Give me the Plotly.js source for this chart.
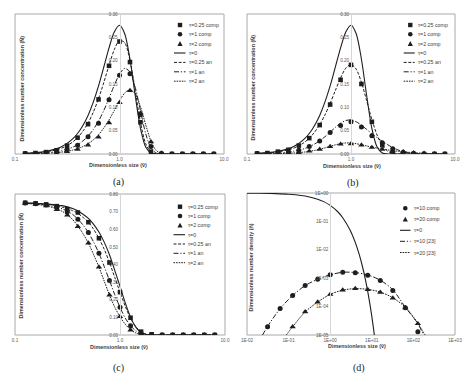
<!DOCTYPE html>
<html><head><meta charset="utf-8">
<script src="https://cdn.plot.ly/plotly-3.0.1.min.js"></script>
<style>html,body{margin:0;padding:0;background:#fff;}#chart{width:474px;height:373px;}</style>
</head><body><div id="chart"></div>
<script>
// ---------- DATA ----------
const sizeComp = [0.125, 0.157, 0.198, 0.25, 0.315, 0.397, 0.5, 0.63, 0.794, 1.0, 1.26, 1.587, 2.0, 2.52, 3.175, 4.0, 5.04, 6.35, 8.0];
const sizeLine = [0.125, 0.157, 0.198, 0.25, 0.281, 0.315, 0.354, 0.397, 0.445, 0.5, 0.561, 0.63, 0.707, 0.794, 0.891, 1.0, 1.122, 1.26, 1.414, 1.587, 1.782, 2.0, 2.245, 2.52, 2.828, 3.175, 4.0, 5.04, 6.35, 8.0];

// panel (a)
const aLineT0   = [0.0015, 0.0029, 0.0058, 0.0115, 0.0162, 0.0227, 0.0317, 0.0440, 0.0607, 0.0827, 0.1111, 0.1460, 0.1862, 0.2274, 0.2615, 0.2759, 0.2578, 0.2030, 0.1254, 0.0549, 0.0148, 0.0020, 0.0001, 0, 0, 0, 0, 0, 0, 0];
const aLineT025 = [0.0012, 0.0023, 0.0046, 0.0091, 0.0128, 0.0180, 0.0252, 0.0350, 0.0484, 0.0663, 0.0895, 0.1186, 0.1530, 0.1900, 0.2236, 0.2436, 0.2385, 0.2003, 0.1358, 0.0677, 0.0220, 0.0039, 0.0003, 0, 0, 0, 0, 0, 0, 0];
const aLineT1   = [0.0007, 0.0013, 0.0026, 0.0051, 0.0073, 0.0102, 0.0143, 0.0200, 0.0278, 0.0383, 0.0524, 0.0705, 0.0931, 0.1194, 0.1471, 0.1711, 0.1837, 0.1757, 0.1430, 0.0927, 0.0434, 0.0129, 0.0020, 0.0001, 0, 0, 0, 0, 0, 0];
const aLineT2   = [0.0004, 0.0007, 0.0015, 0.0029, 0.0041, 0.0058, 0.0081, 0.0114, 0.0159, 0.0220, 0.0303, 0.0414, 0.0556, 0.0730, 0.0931, 0.1137, 0.1308, 0.1380, 0.1289, 0.1015, 0.0627, 0.0275, 0.0074, 0.0010, 0.0001, 0, 0, 0, 0, 0];
const aCompT025 = [0.001, 0.002, 0.004, 0.008, 0.018, 0.035, 0.064, 0.117, 0.189, 0.241, 0.197, 0.068, 0.005, 0, 0, 0, 0, 0, 0];
const aCompT1   = [0.001, 0.001, 0.003, 0.005, 0.010, 0.019, 0.037, 0.066, 0.116, 0.169, 0.172, 0.084, 0.016, 0.001, 0, 0, 0, 0, 0];
const aCompT2   = [0, 0.001, 0.001, 0.002, 0.005, 0.010, 0.019, 0.036, 0.067, 0.110, 0.136, 0.088, 0.026, 0.002, 0, 0, 0, 0, 0];

// panel (b)
const bLineT0   = [0.0015, 0.0029, 0.0058, 0.0115, 0.0162, 0.0227, 0.0317, 0.0440, 0.0607, 0.0827, 0.1111, 0.1460, 0.1862, 0.2274, 0.2615, 0.2759, 0.2578, 0.2030, 0.1254, 0.0549, 0.0148, 0.0020, 0.0001, 0, 0, 0, 0, 0, 0, 0];
const bLineT025 = [0.0011, 0.0023, 0.0045, 0.0090, 0.0126, 0.0176, 0.0245, 0.0338, 0.0464, 0.0628, 0.0835, 0.1084, 0.1360, 0.1630, 0.1840, 0.1920, 0.1818, 0.1536, 0.1143, 0.0739, 0.0406, 0.0182, 0.0062, 0.0014, 0.0002, 0, 0, 0, 0, 0];
const bLineT1   = [0.0005, 0.0011, 0.0021, 0.0042, 0.0059, 0.0082, 0.0113, 0.0156, 0.0212, 0.0283, 0.0369, 0.0468, 0.0570, 0.0660, 0.0718, 0.0729, 0.0691, 0.0617, 0.0527, 0.0435, 0.0350, 0.0269, 0.0200, 0.0138, 0.0089, 0.0050, 0.0009, 0.0001, 0, 0];
const bLineT2   = [0.0002, 0.0004, 0.0008, 0.0015, 0.0022, 0.0030, 0.0041, 0.0057, 0.0076, 0.0101, 0.0131, 0.0164, 0.0196, 0.0222, 0.0237, 0.0236, 0.0221, 0.0198, 0.0173, 0.0149, 0.0126, 0.0106, 0.0088, 0.0073, 0.0060, 0.0048, 0.0029, 0.0015, 0.0006, 0.0001];
const bCompT025 = [0.001, 0.002, 0.005, 0.009, 0.018, 0.034, 0.062, 0.106, 0.159, 0.191, 0.150, 0.069, 0.019, 0.003, 0.001, 0, 0, 0, 0];
const bCompT1   = [0.001, 0.001, 0.002, 0.004, 0.008, 0.016, 0.028, 0.046, 0.061, 0.069, 0.058, 0.039, 0.024, 0.011, 0.004, 0.001, 0, 0, 0];
const bCompT2   = [0, 0, 0.001, 0.002, 0.003, 0.006, 0.010, 0.016, 0.021, 0.022, 0.019, 0.014, 0.010, 0.007, 0.0045, 0.0028, 0.0015, 0.0006, 0.0001];

// panel (c)
const cLineT0   = [0.7485, 0.747, 0.744, 0.738, 0.734, 0.727, 0.718, 0.705, 0.685, 0.662, 0.628, 0.584, 0.527, 0.455, 0.367, 0.276, 0.182, 0.1015, 0.0444, 0.0137, 0.0026, 0.0003, 0, 0, 0, 0, 0, 0, 0, 0];
const cLineT025 = [0.750, 0.747, 0.742, 0.733, 0.726, 0.716, 0.705, 0.690, 0.667, 0.640, 0.600, 0.549, 0.487, 0.411, 0.327, 0.243, 0.163, 0.095, 0.047, 0.018, 0.005, 0.001, 0, 0, 0, 0, 0, 0, 0, 0];
const cLineT1   = [0.749, 0.745, 0.738, 0.726, 0.716, 0.702, 0.684, 0.657, 0.624, 0.581, 0.527, 0.464, 0.389, 0.309, 0.229, 0.157, 0.096, 0.052, 0.024, 0.009, 0.003, 0.001, 0, 0, 0, 0, 0, 0, 0, 0];
const cLineT2   = [0.747, 0.742, 0.733, 0.716, 0.702, 0.682, 0.655, 0.618, 0.574, 0.521, 0.456, 0.385, 0.306, 0.227, 0.158, 0.104, 0.061, 0.030, 0.012, 0.004, 0.001, 0, 0, 0, 0, 0, 0, 0, 0, 0];
const cCompT025 = [0.750, 0.747, 0.741, 0.731, 0.714, 0.695, 0.640, 0.549, 0.411, 0.243, 0.098, 0.019, 0.004, 0, 0, 0, 0, 0, 0];
const cCompT1   = [0.749, 0.745, 0.738, 0.725, 0.700, 0.657, 0.581, 0.464, 0.309, 0.157, 0.053, 0.010, 0.002, 0, 0, 0, 0, 0, 0];
const cCompT2   = [0.747, 0.742, 0.733, 0.712, 0.680, 0.615, 0.521, 0.385, 0.227, 0.104, 0.028, 0.005, 0.001, 0, 0, 0, 0, 0, 0];

// panel (d)
const dSizeT0   = [0.01, 0.02, 0.05, 0.1, 0.2, 0.3, 0.5, 0.7, 1, 1.5, 2, 3, 4, 5, 6, 7, 8, 9, 10, 11, 11.5, 12];
const dLineT0   = [0.990, 0.980, 0.951, 0.905, 0.819, 0.741, 0.607, 0.497, 0.368, 0.223, 0.135, 0.0498, 0.0183, 0.00674, 0.00248, 0.000912, 0.000335, 0.000123, 0.0000454, 0.0000167, 0.0000101, 0.0000061];
const dSizeL10  = [0.0236, 0.03125, 0.0625, 0.125, 0.25, 0.5, 1, 2, 4, 8, 16, 32, 64, 128, 175];
const dLineT10  = [1e-5, 2.0e-5, 8.5e-5, 2.45e-4, 5.5e-4, 9.2e-4, 1.32e-3, 1.62e-3, 1.58e-3, 1.3e-3, 8.5e-4, 3.9e-4, 9.5e-5, 2.5e-5, 1e-5];
const dSizeL20  = [0.088, 0.125, 0.25, 0.5, 1, 2, 4, 8, 16, 32, 64, 128, 190];
const dLineT20  = [1e-5, 1.95e-5, 6.5e-5, 1.45e-4, 2.7e-4, 3.8e-4, 4.3e-4, 4.05e-4, 3.25e-4, 2.05e-4, 9.5e-5, 2.6e-5, 1e-5];
const dSizeC10  = [0.03125, 0.0625, 0.125, 0.25, 0.5, 1, 2, 4, 8, 16, 32, 64, 128];
const dCompT10  = [1.95e-5, 8.5e-5, 2.45e-4, 5.5e-4, 9.1e-4, 1.32e-3, 1.62e-3, 1.55e-3, 1.26e-3, 8.3e-4, 3.7e-4, 9.1e-5, 1.29e-5];
const dSizeC20  = [0.125, 0.25, 0.5, 1, 2, 4, 8, 16, 32, 64, 128];
const dCompT20  = [1.95e-5, 6.5e-5, 1.45e-4, 2.7e-4, 3.8e-4, 4.3e-4, 4.0e-4, 3.2e-4, 2.0e-4, 9.1e-5, 2.5e-5];

const legendABC = ["τ=0.25 comp", "τ=1 comp", "τ=2 comp", "τ=0", "τ=0.25 an", "τ=1 an", "τ=2 an"];
const legendD   = ["τ=10 comp", "τ=20 comp", "τ=0", "τ=10 [23]", "τ=20 [23]"];
const xTicksLin = [0.1, 1, 10];
const xTextLin  = ["0.1", "1.0", "10.0"];
const xTicksD   = [0.01, 0.1, 1, 10, 100, 1000];
const xTextD    = ["1E-02", "1E-01", "1E+00", "1E+01", "1E+02", "1E+03"];
const yTicksD   = [1, 0.1, 0.01, 0.001, 0.0001, 0.00001];
const yTextD    = ["1E+00", "1E-01", "1E-02", "1E-03", "1E-04", "1E-05"];

// ---------- STYLE / LAYOUT ----------
const W = 474, H = 373;
const px = v => v / W, py = v => 1 - v / H;
const INK = '#1e1e1e';
const FONT = 'Liberation Sans, Arial, sans-serif';
const DASH = {solid: 'solid', d025: '3px,1.6px', d1: '5px,1.8px,1.2px,1.8px', d2: '1.6px,1px', d10: '5px,1.8px,1.2px,1.8px', d20: '1.6px,1px'};

function lineTrace(x, y, ax, dash, w) {
  return {x: x, y: y, xaxis: 'x' + ax, yaxis: 'y' + ax, mode: 'lines', type: 'scatter',
    line: {color: INK, width: w || 1, dash: dash, shape: 'spline', smoothing: 0.8}, hoverinfo: 'skip', showlegend: false};
}
function markTrace(x, y, ax, sym, sz) {
  return {x: x, y: y, xaxis: 'x' + ax, yaxis: 'y' + ax, mode: 'markers', type: 'scatter',
    marker: {symbol: sym, size: sz, color: INK, line: {width: 0}}, hoverinfo: 'skip', showlegend: false};
}

const traces = [];
function addStd(ax, t0, t025, t1, t2, c025, c1, c2) {
  traces.push(lineTrace(sizeLine, t0, ax, DASH.solid, 1.1));
  traces.push(lineTrace(sizeLine, t025, ax, DASH.d025));
  traces.push(lineTrace(sizeLine, t1, ax, DASH.d1));
  traces.push(lineTrace(sizeLine, t2, ax, DASH.d2));
  traces.push(markTrace(sizeComp, c025, ax, 'square', 4.6));
  traces.push(markTrace(sizeComp, c1, ax, 'circle', 5));
  traces.push(markTrace(sizeComp, c2, ax, 'triangle-up', 5.6));
}
addStd('', aLineT0, aLineT025, aLineT1, aLineT2, aCompT025, aCompT1, aCompT2);
addStd('2', bLineT0, bLineT025, bLineT1, bLineT2, bCompT025, bCompT1, bCompT2);
addStd('3', cLineT0, cLineT025, cLineT1, cLineT2, cCompT025, cCompT1, cCompT2);
traces.push(lineTrace(dSizeT0, dLineT0, '4', DASH.solid, 1.1));
traces.push(lineTrace(dSizeL10, dLineT10, '4', DASH.d10));
traces.push(lineTrace(dSizeL20, dLineT20, '4', DASH.d20));
traces.push(markTrace(dSizeC10, dCompT10, '4', 'circle', 5));
traces.push(markTrace(dSizeC20, dCompT20, '4', 'triangle-up', 5.6));
// fix axis ids for first panel
traces.forEach(t => { if (t.xaxis === 'x') { t.xaxis = 'x'; t.yaxis = 'y'; } });

const tickFont = {family: FONT, size: 4.6, color: '#595959'};
function xAxis(l, r, rng, tv, tt) {
  return {domain: [px(l), px(r)], type: 'log', range: rng, tickmode: 'array', tickvals: tv, ticktext: tt,
    showgrid: false, zeroline: false, showline: false, ticks: '', tickfont: tickFont, fixedrange: true, ticklabelstandoff: 1};
}
function yAxis(t, b, pos, extra) {
  return Object.assign({domain: [py(b), py(t)], anchor: 'free', position: px(pos), showgrid: false, zeroline: false,
    showline: true, linecolor: '#d6d6d6', linewidth: 1, ticks: '', tickfont: tickFont, fixedrange: true, ticklabelstandoff: 1}, extra);
}

const panels = {
  a: {l: 15, r: 224, t: 14, b: 154, yx: 119.5},
  b: {l: 247, r: 455, t: 14, b: 154, yx: 351},
  c: {l: 15, r: 225, t: 194, b: 335, yx: 120},
  d: {l: 247, r: 455, t: 193, b: 335, yx: 330.2}
};

const layout = {
  width: W, height: H, margin: {l: 0, r: 0, t: 0, b: 0}, paper_bgcolor: '#fff', plot_bgcolor: 'rgba(0,0,0,0)',
  showlegend: false, font: {family: FONT, color: '#404040'},
  xaxis:  xAxis(panels.a.l, panels.a.r, [-1, 1], xTicksLin, xTextLin),
  yaxis:  yAxis(panels.a.t, panels.a.b, panels.a.yx, {range: [0, 0.30], dtick: 0.05, tickformat: '.2f'}),
  xaxis2: xAxis(panels.b.l, panels.b.r, [-1, 1], xTicksLin, xTextLin),
  yaxis2: yAxis(panels.b.t, panels.b.b, panels.b.yx, {range: [0, 0.30], dtick: 0.05, tickformat: '.2f'}),
  xaxis3: xAxis(panels.c.l, panels.c.r, [-1, 1], xTicksLin, xTextLin),
  yaxis3: yAxis(panels.c.t, panels.c.b, panels.c.yx, {range: [0, 0.80], dtick: 0.10, tickformat: '.2f'}),
  xaxis4: xAxis(panels.d.l, panels.d.r, [-2, 3], xTicksD, xTextD),
  yaxis4: yAxis(panels.d.t, panels.d.b, panels.d.yx, {type: 'log', range: [-5, 0], tickmode: 'array', tickvals: yTicksD, ticktext: yTextD}),
  shapes: [], annotations: []
};
layout.xaxis.anchor = 'y'; layout.xaxis2.anchor = 'y2'; layout.xaxis3.anchor = 'y3'; layout.xaxis4.anchor = 'y4';

// boxes
Object.values(panels).forEach(p => {
  layout.shapes.push({type: 'rect', xref: 'paper', yref: 'paper', x0: px(p.l), x1: px(p.r), y0: py(p.b), y1: py(p.t),
    line: {color: '#a8a8a8', width: 1}, fillcolor: 'rgba(0,0,0,0)', layer: 'below'});
});

function ann(text, x, y, opt) {
  layout.annotations.push(Object.assign({text: text, x: px(x), y: py(y), xref: 'paper', yref: 'paper', showarrow: false,
    xanchor: 'center', yanchor: 'middle', font: {family: FONT, size: 5.3, color: '#404040'}}, opt || {}));
}
const titleFont = {family: FONT, size: 5.4, color: '#404040', weight: 'bold'};
const yTitleStd = '<b>Dimensionless number concentration (Ñ)</b>';
const xTitle = '<b>Dimensionless size (ṽ)</b>';
ann(yTitleStd, 21.5, 89, {textangle: -90, font: titleFont});
ann(yTitleStd, 252.5, 88, {textangle: -90, font: titleFont});
ann(yTitleStd, 20.5, 266, {textangle: -90, font: titleFont});
ann('<b>Dimensionless number density (ñ)</b>', 250.5, 268, {textangle: -90, font: titleFont});
ann(xTitle, 118, 165, {font: titleFont});
ann(xTitle, 352, 165.5, {font: titleFont});
ann(xTitle, 118.5, 346.5, {font: titleFont});
ann(xTitle, 357, 345.5, {font: titleFont});
const labFont = {family: 'Liberation Serif, Times New Roman, serif', size: 10, color: '#222'};
ann('(a)', 118.7, 181.5, {font: labFont});
ann('(b)', 352.5, 182.5, {font: labFont});
ann('(c)', 118.5, 367.5, {font: labFont});
ann('(d)', 359, 367.5, {font: labFont});

// legends (drawn as shapes + text)
function legend(labels, kinds, rows, mx, lx0, lx1, tx) {
  labels.forEach((lab, i) => {
    const y = rows[i], k = kinds[i];
    if (k === 'square') {
      layout.shapes.push({type: 'rect', xref: 'paper', yref: 'paper', x0: px(mx - 2.2), x1: px(mx + 2.2), y0: py(y + 2.2), y1: py(y - 2.2), fillcolor: INK, line: {width: 0}});
    } else if (k === 'circle') {
      layout.shapes.push({type: 'circle', xref: 'paper', yref: 'paper', x0: px(mx - 2.3), x1: px(mx + 2.3), y0: py(y + 2.3), y1: py(y - 2.3), fillcolor: INK, line: {width: 0}});
    } else if (k === 'triangle') {
      layout.shapes.push({type: 'path', xref: 'paper', yref: 'paper',
        path: `M ${px(mx - 2.6)} ${py(y + 2.2)} L ${px(mx + 2.6)} ${py(y + 2.2)} L ${px(mx)} ${py(y - 2.6)} Z`, fillcolor: INK, line: {width: 0}});
    } else {
      layout.shapes.push({type: 'line', xref: 'paper', yref: 'paper', x0: px(lx0), x1: px(lx1), y0: py(y), y1: py(y), line: {color: INK, width: k === 'solid' ? 1.1 : 1, dash: k}});
    }
    ann(lab, tx, y, {xanchor: 'left'});
  });
}
const kindsABC = ['square', 'circle', 'triangle', DASH.solid, DASH.d025, DASH.d1, DASH.d2];
const rowsAB = [25, 34.3, 43.7, 53, 62.4, 71.8, 81.2];
legend(legendABC, kindsABC, rowsAB, 180, 174, 185.5, 186.5);
legend(legendABC, kindsABC, rowsAB, 410.3, 403.7, 414.7, 415.7);
legend(legendABC, kindsABC, [206.7, 216, 225.3, 234.7, 244, 253.3, 262.7], 180, 173.5, 185, 186);
legend(legendD, ['circle', 'triangle', DASH.solid, DASH.d10, DASH.d20], [208.3, 219.3, 230.3, 241.3, 252.5], 405.3, 400, 410.5, 411.5);

Plotly.newPlot('chart', traces, layout, {staticPlot: true, displayModeBar: false});
</script></body></html>
